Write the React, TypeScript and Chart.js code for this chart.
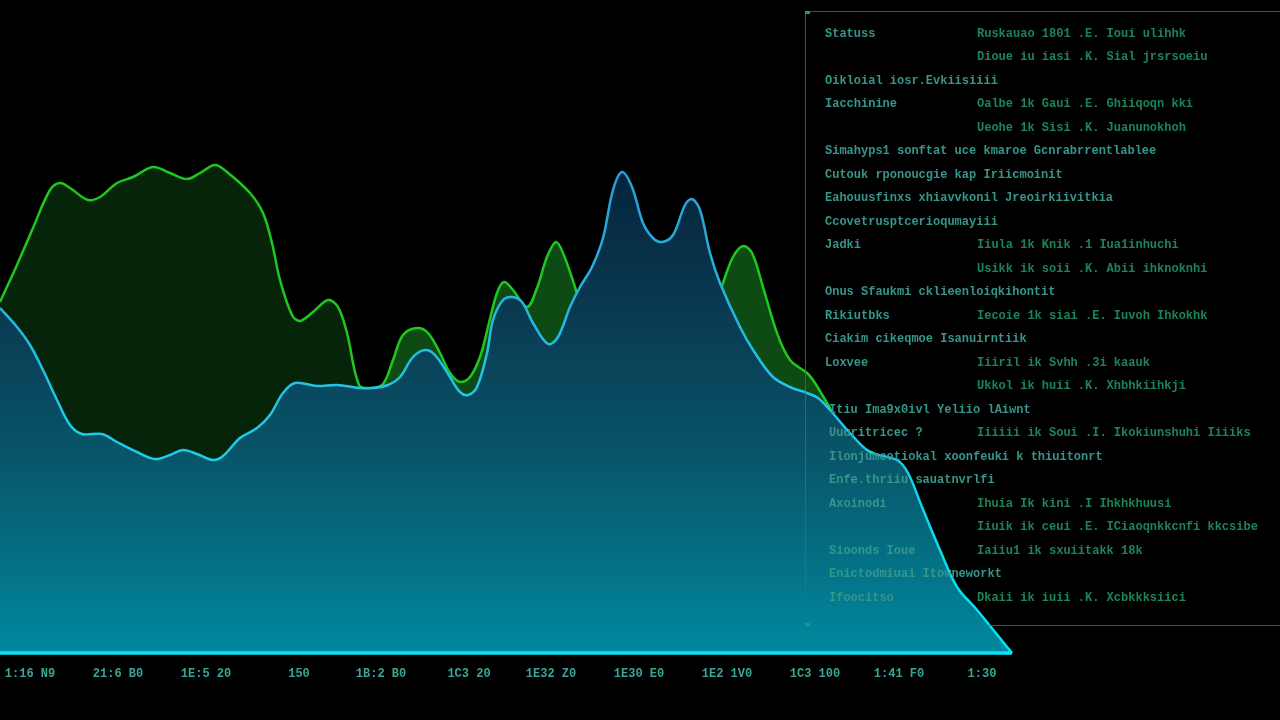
import { useEffect, useRef } from 'react';
import { Chart, registerables } from 'chart.js';

Chart.register(...registerables);

const blueX = [0, 17, 30, 43, 57, 70, 82, 102, 117, 137, 155, 170, 183, 197, 213, 223, 240, 257, 270, 283, 295, 317, 337, 360, 373, 388, 400, 413, 425, 435, 450, 460, 468, 477, 487, 493, 503, 512, 522, 533, 548, 558, 570, 580, 592, 603, 613, 622, 632, 643, 653, 662, 673, 685, 692, 700, 710, 720, 740, 755, 773, 790, 807, 818, 830, 850, 870, 897, 908, 922, 940, 957, 977, 1012];
const blueValues = [346, 327, 309, 284, 254, 229, 220, 220, 212, 202, 195, 199, 204, 200, 194, 198, 216, 226, 239, 261, 271, 268, 269, 266, 266, 269, 277, 297, 304, 299, 277, 262, 259, 267, 301, 334, 354, 357, 352, 331, 310, 317, 347, 367, 387, 416, 464, 482, 467, 431, 416, 412, 419, 449, 455, 444, 401, 371, 327, 301, 277, 267, 261, 256, 244, 221, 202, 194, 181, 147, 104, 67, 44, 1];

const greenX = [0, 17, 33, 50, 60, 70, 88, 100, 117, 133, 153, 170, 187, 200, 215, 227, 250, 263, 272, 280, 292, 300, 313, 328, 338, 347, 359, 370, 383, 393, 403, 417, 428, 440, 450, 460, 470, 480, 488, 497, 504, 513, 527, 537, 547, 556, 563, 575, 590, 640, 690, 712, 723, 733, 743, 752, 763, 777, 790, 807, 815, 827, 850, 900, 940, 1000, 1012];
const greenValues = [352, 389, 426, 464, 471, 466, 454, 457, 471, 477, 487, 481, 475, 481, 489, 482, 461, 441, 411, 374, 339, 333, 342, 354, 347, 321, 269, 266, 270, 294, 319, 326, 321, 301, 281, 272, 277, 297, 327, 361, 372, 364, 347, 366, 397, 412, 401, 367, 320, 340, 360, 340, 371, 397, 408, 401, 367, 321, 294, 281, 271, 251, 214, 184, 94, 4, 1];

const baseX = [0, 1012];
const baseValues = [1, 1];

const tickValues = [30, 118, 206, 299, 381, 469, 551, 639, 727, 815, 899, 982];
const tickLabels = ['1:16 N9', '21:6 B0', '1E:5 20', '150', '1B:2 B0', '1C3 20', '1E32 Z0', '1E30 E0', '1E2 1V0', '1C3 100', '1:41 F0', '1:30'];

const leftColumn = [
  'Statuss', '', 'Oikloial iosr.Evkiisiiii', 'Iacchinine', '',
  'Simahyps1 sonftat uce kmaroe Gcnrabrrentlablee', 'Cutouk rponoucgie kap Iriicmoinit', 'Eahouusfinxs xhiavvkonil Jreoirkiivitkia', 'Ccovetrusptcerioqumayiii',
  'Jadki', '', 'Onus Sfaukmi cklieenloiqkihontit', 'Rikiutbks', 'Ciakim cikeqmoe Isanuirntiik',
  'Loxvee', '', 'Itiu Ima9x0ivl Yeliio lAiwnt', 'Uuuritricec ?', 'Ilonjumcotiokal xoonfeuki k thiuitonrt', 'Enfe.thriiu sauatnvrlfi',
  'Axoinodi', '', 'Sioonds  Ioue', 'Enictodmiuai Itowneworkt', 'Ifoocitso',
];
const rightColumn = [
  'Ruskauao 1801 .E. Ioui ulihhk', 'Dioue iu iasi .K. Sial jrsrsoeiu', '', 'Oalbe 1k Gaui .E. Ghiiqoqn kki', 'Ueohe 1k Sisi .K. Juanunokhoh',
  '', '', '', '',
  'Iiula 1k Knik .1 Iua1inhuchi', 'Usikk ik soii .K. Abii ihknoknhi', '', 'Iecoie 1k siai .E. Iuvoh Ihkokhk', '',
  'Iiiril ik Svhh .3i kaauk', 'Ukkol ik huii .K. Xhbhkiihkji', '', 'Iiiiii ik Soui .I. Ikokiunshuhi Iiiiks', '', '',
  'Ihuia Ik kini .I Ihkhkhuusi', 'Iiuik ik ceui .E. ICiaoqnkkcnfi kkcsibe', 'Iaiiu1 ik sxuiitakk 18k', '', 'Dkaii ik iuii .K. Xcbkkksiici',
];

export default function App() {
  const canvasRef = useRef<HTMLCanvasElement>(null);

  useEffect(() => {
    if (!canvasRef.current) return;

    const blueFill = (ctx: any) => {
      const area = ctx.chart.chartArea;
      if (!area) return '#0a4a60';
      const g = ctx.chart.ctx.createLinearGradient(0, 170, 0, area.bottom);
      g.addColorStop(0, '#05233a');
      g.addColorStop(0.32, '#0a3c54');
      g.addColorStop(0.6, '#08566a');
      g.addColorStop(1, '#00899f');
      return g;
    };
    const blueLine = (ctx: any) => {
      const area = ctx.chart.chartArea;
      if (!area) return '#1fc0e8';
      const g = ctx.chart.ctx.createLinearGradient(0, 170, 0, area.bottom);
      g.addColorStop(0, '#2a9fd6');
      g.addColorStop(0.45, '#22c4e6');
      g.addColorStop(1, '#00e8f4');
      return g;
    };
    const greenFill = (ctx: any) => {
      const area = ctx.chart.chartArea;
      if (!area) return '#08280a';
      const g = ctx.chart.ctx.createLinearGradient(0, 0, area.right, 0);
      g.addColorStop(0, '#062409');
      g.addColorStop(0.28, '#062409');
      g.addColorStop(0.3, '#0e4a14');
      g.addColorStop(1, '#0e4a14');
      return g;
    };

    const chart = new Chart(canvasRef.current, {
      type: 'line',
      data: {
        datasets: [
          {
            label: 'Base',
            data: baseX.map((x, i) => ({ x, y: baseValues[i] })),
            borderColor: '#00e8fa',
            borderWidth: 3.5,
            pointRadius: 0,
            clip: false,
          },
          {
            label: 'Blue',
            data: blueX.map((x, i) => ({ x, y: blueValues[i] })),
            borderColor: blueLine,
            backgroundColor: blueFill,
            borderWidth: 2.5,
            fill: 'origin',
            pointRadius: 0,
            tension: 0.35,
          },
          {
            label: 'Green',
            data: greenX.map((x, i) => ({ x, y: greenValues[i] })),
            borderColor: '#1ec81e',
            backgroundColor: greenFill,
            borderWidth: 2.5,
            fill: 'origin',
            pointRadius: 0,
            tension: 0.35,
          },
        ],
      },
      options: {
        animation: false,
        responsive: true,
        maintainAspectRatio: false,
        layout: { padding: 0, autoPadding: false },
        plugins: {
          legend: { display: false },
          tooltip: { enabled: false },
        },
        scales: {
          x: {
            type: 'linear',
            min: 0,
            max: 1280,
            grid: { display: false, drawTicks: false },
            border: { display: false },
            afterBuildTicks: (scale: any) => {
              scale.ticks = tickValues.map(value => ({ value }));
            },
            afterFit: (scale: any) => {
              scale.height = 66;
              scale.paddingLeft = 0;
              scale.paddingRight = 0;
            },
            ticks: {
              autoSkip: false,
              maxRotation: 0,
              padding: 13,
              color: '#3aa596',
              font: { family: 'Liberation Mono', size: 12, weight: 'bold' },
              callback: (value: any) => tickLabels[tickValues.indexOf(value)],
            },
          },
          y: { display: false, min: 0, max: 654 },
        },
      },
    } as any);

    return () => chart.destroy();
  }, []);

  return (
    <div style={{ position: 'relative', width: 1280, height: 720, background: '#000', overflow: 'hidden' }}>
      <style>{'body{margin:0;background:#000}'}</style>
      <div style={{ position: 'absolute', inset: 0 }}>
        <canvas ref={canvasRef} />
      </div>
      <div
        style={{
          position: 'absolute',
          left: 805,
          top: 11,
          width: 480,
          height: 613,
          border: '1px solid rgba(26,130,108,0.8)',
          font: '12px "Liberation Mono", monospace',
          fontWeight: 'bold',
          filter: 'blur(0.5px)',
        }}
      >
        {leftColumn.map((text, i) => (
          <div key={i} style={{ position: 'absolute', top: 15 + i * 23.48, left: i > 15 ? 23 : 19, lineHeight: '14px', whiteSpace: 'nowrap' }}>
            <span style={{ color: '#36968a' }}>{text}</span>
            {rightColumn[i] && (
              <span style={{ position: 'absolute', left: i > 15 ? 148 : 152, color: '#1c8558' }}>{rightColumn[i]}</span>
            )}
          </div>
        ))}
        <div style={{ position: 'absolute', left: -1, top: -1, width: 5, height: 3, background: '#1f9a80' }} />
        <div style={{ position: 'absolute', left: -1, bottom: -1, width: 5, height: 3, background: '#1f9a80' }} />
      </div>
    </div>
  );
}
